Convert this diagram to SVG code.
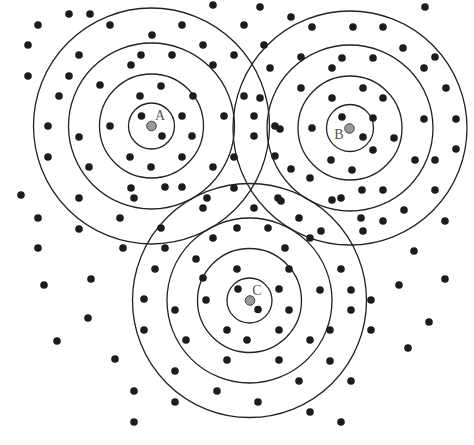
<svg xmlns="http://www.w3.org/2000/svg" width="474" height="445" viewBox="0 0 474 445">
<style>
.ring{fill:none;stroke:#222;stroke-width:1.3}
.d{fill:#1c1c1c}
.ctr{fill:#9a9a9a;stroke:#333;stroke-width:0.9}
.lbl{font-family:"Liberation Serif",serif;font-size:14px;fill:#555;text-anchor:middle}
</style>
<rect width="474" height="445" fill="#fff"/>
<defs><circle id="p" r="3.8" class="d"/></defs>
<g id="rings">
<g id="ringsA"><circle class="ring" cx="151.5" cy="126" r="23"/><circle class="ring" cx="151.5" cy="126" r="52"/><circle class="ring" cx="151.5" cy="126" r="83"/><circle class="ring" cx="151.5" cy="126" r="118"/></g>
<g id="ringsB"><circle class="ring" cx="350" cy="128" r="23.5"/><circle class="ring" cx="350" cy="128" r="52"/><circle class="ring" cx="350" cy="128" r="83"/><circle class="ring" cx="350" cy="128" r="117"/></g>
<g id="ringsC"><circle class="ring" cx="249.5" cy="300.5" r="22.5"/><circle class="ring" cx="249.5" cy="300.5" r="52"/><circle class="ring" cx="249.5" cy="300.5" r="82.5"/><circle class="ring" cx="249.5" cy="300.5" r="117"/></g>
</g>
<g id="dots">
<use href="#p" x="69" y="14"/><use href="#p" x="90" y="14"/><use href="#p" x="38" y="25"/><use href="#p" x="110" y="25"/><use href="#p" x="152" y="35"/><use href="#p" x="28" y="45"/><use href="#p" x="79" y="55"/><use href="#p" x="141" y="55"/><use href="#p" x="131" y="65"/><use href="#p" x="28" y="76"/><use href="#p" x="69" y="76"/><use href="#p" x="100" y="85"/><use href="#p" x="59" y="96"/><use href="#p" x="140" y="96"/><use href="#p" x="141.5" y="116"/><use href="#p" x="48" y="126"/><use href="#p" x="110" y="126"/><use href="#p" x="79" y="137"/>
<use href="#p" x="213" y="5"/><use href="#p" x="260" y="7"/><use href="#p" x="291" y="17"/><use href="#p" x="312" y="27"/><use href="#p" x="182" y="25"/><use href="#p" x="244" y="25"/><use href="#p" x="203" y="45"/><use href="#p" x="264" y="45"/><use href="#p" x="172" y="55"/><use href="#p" x="234" y="55"/><use href="#p" x="301" y="57"/><use href="#p" x="213" y="65"/><use href="#p" x="270" y="68"/><use href="#p" x="161" y="86"/><use href="#p" x="193" y="96"/><use href="#p" x="301" y="88"/><use href="#p" x="244" y="96"/><use href="#p" x="260" y="98"/><use href="#p" x="182" y="116"/><use href="#p" x="224" y="116"/><use href="#p" x="254" y="116"/><use href="#p" x="275" y="126"/><use href="#p" x="280" y="129"/><use href="#p" x="312" y="128"/><use href="#p" x="162" y="136"/><use href="#p" x="192" y="136"/><use href="#p" x="254" y="136"/>
<use href="#p" x="425" y="7"/><use href="#p" x="353" y="27"/><use href="#p" x="383" y="27"/><use href="#p" x="403" y="48"/><use href="#p" x="342" y="58"/><use href="#p" x="373" y="58"/><use href="#p" x="435" y="57"/><use href="#p" x="332" y="68"/><use href="#p" x="424" y="68"/><use href="#p" x="363" y="88"/><use href="#p" x="446" y="88"/><use href="#p" x="332" y="98"/><use href="#p" x="383" y="98"/><use href="#p" x="342" y="117"/><use href="#p" x="373" y="118"/><use href="#p" x="424" y="119"/><use href="#p" x="456" y="119"/><use href="#p" x="363" y="137"/><use href="#p" x="394" y="138"/><use href="#p" x="373" y="150"/><use href="#p" x="456" y="149"/>
<use href="#p" x="48" y="157"/><use href="#p" x="130" y="157"/><use href="#p" x="89" y="167"/><use href="#p" x="151" y="167"/><use href="#p" x="21" y="195"/><use href="#p" x="79" y="198"/><use href="#p" x="131" y="188"/><use href="#p" x="134" y="198"/><use href="#p" x="38" y="218"/><use href="#p" x="120" y="218"/><use href="#p" x="79" y="229"/><use href="#p" x="38" y="248"/><use href="#p" x="123" y="248"/><use href="#p" x="155" y="269"/><use href="#p" x="44" y="285"/><use href="#p" x="91" y="279"/><use href="#p" x="144" y="299"/><use href="#p" x="161" y="228"/>
<use href="#p" x="182" y="157"/><use href="#p" x="234" y="157"/><use href="#p" x="275" y="156"/><use href="#p" x="213" y="167"/><use href="#p" x="291" y="169"/><use href="#p" x="310" y="178"/><use href="#p" x="165" y="187"/><use href="#p" x="182" y="187"/><use href="#p" x="234" y="188"/><use href="#p" x="207" y="198"/><use href="#p" x="278" y="198"/><use href="#p" x="281" y="201"/><use href="#p" x="203" y="208"/><use href="#p" x="254" y="208"/><use href="#p" x="299" y="218"/><use href="#p" x="237" y="228"/><use href="#p" x="268" y="228"/><use href="#p" x="310" y="238"/><use href="#p" x="213" y="238"/><use href="#p" x="165" y="248"/><use href="#p" x="285" y="248"/><use href="#p" x="196" y="259"/><use href="#p" x="237" y="269"/><use href="#p" x="289" y="269"/><use href="#p" x="203" y="278"/><use href="#p" x="238" y="289"/><use href="#p" x="279" y="289"/>
<use href="#p" x="331" y="160"/><use href="#p" x="415" y="160"/><use href="#p" x="435" y="160"/><use href="#p" x="352" y="170"/><use href="#p" x="362" y="190"/><use href="#p" x="383" y="190"/><use href="#p" x="435" y="190"/><use href="#p" x="332" y="200"/><use href="#p" x="341" y="198"/><use href="#p" x="404" y="210"/><use href="#p" x="361" y="218"/><use href="#p" x="383" y="221"/><use href="#p" x="445" y="221"/><use href="#p" x="321" y="231"/><use href="#p" x="363" y="231"/><use href="#p" x="414" y="251"/><use href="#p" x="341" y="269"/><use href="#p" x="445" y="279"/><use href="#p" x="399" y="285"/><use href="#p" x="320" y="290"/><use href="#p" x="351" y="290"/>
<use href="#p" x="88" y="318"/><use href="#p" x="144" y="330"/><use href="#p" x="57" y="341"/><use href="#p" x="115" y="359"/><use href="#p" x="134" y="391"/><use href="#p" x="134" y="422"/>
<use href="#p" x="206" y="300"/><use href="#p" x="175" y="310"/><use href="#p" x="258" y="309.5"/><use href="#p" x="289" y="310"/><use href="#p" x="227" y="330"/><use href="#p" x="279" y="330"/><use href="#p" x="186" y="340"/><use href="#p" x="247" y="340"/><use href="#p" x="310" y="340"/><use href="#p" x="227" y="360"/><use href="#p" x="279" y="360"/><use href="#p" x="175" y="371"/><use href="#p" x="299" y="381"/><use href="#p" x="217" y="391"/><use href="#p" x="175" y="402"/><use href="#p" x="258" y="402"/><use href="#p" x="310" y="412"/>
<use href="#p" x="371" y="300"/><use href="#p" x="351" y="310"/><use href="#p" x="429" y="322"/><use href="#p" x="330" y="330"/><use href="#p" x="371" y="330"/><use href="#p" x="408" y="348"/><use href="#p" x="330" y="361"/><use href="#p" x="351" y="381"/><use href="#p" x="341" y="422"/>
</g>
<g id="nodeA"><circle class="ctr" cx="151.5" cy="126" r="4.8"/><text class="lbl" x="160" y="119.5">A</text></g>
<g id="nodeB"><circle class="ctr" cx="349.5" cy="128.5" r="4.8"/><text class="lbl" x="339" y="139">B</text></g>
<g id="nodeC"><circle class="ctr" cx="250" cy="300.5" r="4.8"/><text class="lbl" x="257" y="295">C</text></g>
</svg>
